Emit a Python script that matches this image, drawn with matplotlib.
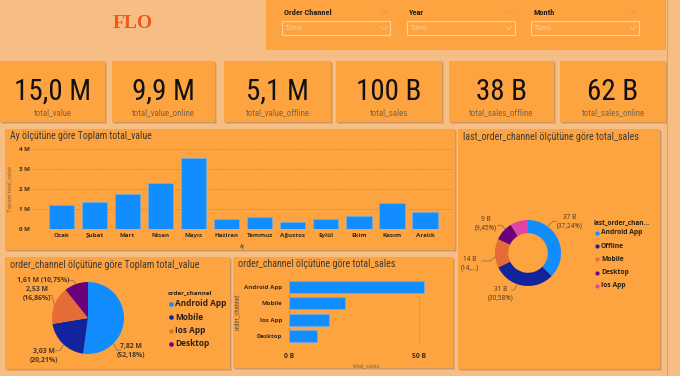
import numpy as np
import matplotlib
matplotlib.use('Agg')
import matplotlib.pyplot as plt
from matplotlib import font_manager as fm
from matplotlib.patches import Rectangle

# ── Data ──────────────────────────────────────────────────────
months = ['Ocak', 'Şubat', 'Mart', 'Nisan', 'Mayıs', 'Haziran', 'Temmuz',
          'Ağustos', 'Eylül', 'Ekim', 'Kasım', 'Aralık']
month_value = [1.19, 1.34, 1.74, 2.31, 3.54, 0.53, 0.63, 0.38, 0.53, 0.64, 1.29, 0.88]   # M

kpi_values = ['15,0 M', '9,9 M', '5,1 M', '100 B', '38 B', '62 B']
kpi_labels = ['total_value', 'total_value_online', 'total_value_offline',
              'total_sales', 'total_sales_offline', 'total_sales_online']

last_channels = ['Android App', 'Offline', 'Mobile', 'Desktop', 'Ios App']
last_sales = [37.24, 30.58, 14.05, 9.45, 8.68]          # B (share of 100 B)
last_labels = ['37 B\n(37,24%)', '31 B\n(30,58%)', '14 B\n(14,...)', '9 B\n(9,45%)']

pie_channels = ['Android App', 'Mobile', 'Ios App', 'Desktop']
pie_value = [7.82, 3.03, 2.53, 1.61]                    # M
pie_labels = ['7,82 M\n(52,18%)', '3,03 M\n(20,21%)', '2,53 M\n(16,86%)', '1,61 M (10,75%)']

bar_channels = ['Android App', 'Mobile', 'Ios App', 'Desktop']
bar_sales = [52.0, 21.4, 15.2, 10.8]                    # B

slicers = ['Order Channel', 'Year', 'Month']

# ── Style ─────────────────────────────────────────────────────
BG = '#F6BE84'
PANEL = '#FDA340'
BLUE = '#118DFF'
PBI = {'Android App': '#118DFF', 'Offline': '#12239E', 'Mobile': '#E66C37',
       'Desktop': '#6B007B', 'Ios App': '#E044A7'}
PIE_COL = ['#118DFF', '#12239E', '#E66C37', '#6B007B']
TXT = '#3a2c1f'
W, H = 680, 376

# narrow family (DIN-like) for titles / cards, Segoe-like for labels
names = {f.name for f in fm.fontManager.ttflist}
FAM, STRETCH = 'DejaVu Sans', 'normal'
for p in ['Roboto Condensed', 'Liberation Sans Narrow', 'DejaVu Sans Condensed',
          'Noto Sans Condensed', 'Open Sans Condensed']:
    if p in names:
        FAM = p
        break
else:
    for f in fm.fontManager.ttflist:
        if f.name in ('DejaVu Sans', 'Noto Sans', 'Roboto', 'Open Sans') and \
                f.stretch in ('condensed', 'semi-condensed', 'extra-condensed'):
            FAM, STRETCH = f.name, 'condensed'
            break
SEG = ['Open Sans', 'DejaVu Sans']

plt.rcParams['font.family'] = [FAM, 'DejaVu Sans']
plt.rcParams['font.stretch'] = STRETCH

fig = plt.figure(figsize=(W / 100, H / 100), dpi=100, facecolor=BG)
renderer = fig.canvas.get_renderer()
bg = fig.add_axes([0, 0, 1, 1])
bg.set_xlim(0, W)
bg.set_ylim(H, 0)
bg.axis('off')


def fs(s, target, bold=False, family=None):
    """font size that gives string s a width of target pixels"""
    kw = {'family': family} if family else {}
    t = fig.text(0, 0, s, fontsize=10, fontweight='bold' if bold else 'normal', **kw)
    w = t.get_window_extent(renderer).width
    t.remove()
    return 10 * target / w


def ax_at(x0, y0, x1, y1):
    a = fig.add_axes([x0 / W, 1 - y1 / H, (x1 - x0) / W, (y1 - y0) / H])
    a.set_facecolor('none')
    return a


def panel(x0, y0, x1, y1, shadow=True):
    if shadow:
        bg.add_patch(Rectangle((x0 + 2, y0 + 2), x1 - x0, y1 - y0, color='#a8794c', alpha=0.25, lw=0))
        bg.add_patch(Rectangle((x0 + 1, y0 + 1), x1 - x0, y1 - y0, color='#9c6f45', alpha=0.35, lw=0))
    bg.add_patch(Rectangle((x0, y0), x1 - x0, y1 - y0, color=PANEL, lw=0))


def chevron(x, y, c):
    bg.plot([x - 3, x, x + 3], [y - 1.5, y + 1.5, y - 1.5], color=c, lw=0.7)


# ── Header ────────────────────────────────────────────────────
bg.text(133, 24, 'FLO', color='#F0561E', fontsize=14, fontweight='bold',
        family=['Liberation Serif', 'DejaVu Serif'], ha='center', va='center')
panel(266, 0, 666, 50, shadow=False)
bg.plot([667, 667], [0, H], color='#d9a46a', lw=0.8)

f_sl = fs('Order Channel', 48, True)
f_tm = fs('Tümü', 18)
for i, name in enumerate(slicers):
    x0 = 282 + i * 124.5
    bg.text(x0 + 2, 12.5, name, fontsize=f_sl, fontweight='bold', color='#2b2118', va='center')
    chevron(x0 + 103, 12, '#d8a060')
    bg.add_patch(Rectangle((x0, 21), 108, 13.5, fill=False, ec='#f9cf95', lw=0.9))
    bg.text(x0 + 3, 28, 'Tümü', fontsize=f_tm, color='#f8d09c', va='center')
    chevron(x0 + 102, 28, '#f5c88e')

# ── KPI cards ────────────────────────────────────────────────
cards = [(0, 105), (112, 215), (224, 331), (336, 442), (449, 554), (560, 666)]
f_kv = fs('15,0 M', 77)
f_kl = fs('total_value', 38)
for (x0, x1), v, lab in zip(cards, kpi_values, kpi_labels):
    panel(x0, 61, x1, 122)
    cx = (x0 + x1) / 2
    bg.text(cx, 92, v, fontsize=f_kv, color='#111111', ha='center', va='center')
    bg.text(cx, 113, lab, fontsize=f_kl, color='#7a6450', ha='center', va='center')

# ── Panels ───────────────────────────────────────────────────
panel(5, 129, 455, 250)
panel(458, 129, 660, 369)
panel(5, 257, 230, 369)
panel(233, 257, 453, 368)

titles = [(10, 136, 'Ay ölçütüne göre Toplam total_value', 142),
          (463, 137, 'last_order_channel ölçütüne göre total_sales', 175),
          (10, 265, 'order_channel ölçütüne göre Toplam total_value', 188),
          (238, 264, 'order_channel ölçütüne göre total_sales', 156)]
for tx, ty, s, tw in titles:
    bg.text(tx, ty, s, fontsize=fs(s, tw), color='#3b3b3b', va='center')

grid_kw = dict(color='#b5773d', lw=0.6, linestyle=(0, (1, 2)))

# ── Monthly bar chart ────────────────────────────────────────
ax1 = ax_at(33, 148.7, 452, 229.3)
x = np.arange(len(months))
ax1.bar(x, month_value, width=0.77, color=BLUE, edgecolor='#6db5ff', lw=0.4, zorder=3)
ax1.set_xlim(-0.86, 11.82)
ax1.set_ylim(0, 4)
ax1.set_yticks([0, 1, 2, 3, 4])
ax1.set_yticklabels([f'{t} M' for t in range(5)], fontsize=fs('4 M', 11, True, SEG),
                    fontweight='bold', color=TXT, family=SEG)
ax1.set_xticks(x)
ax1.set_xticklabels(months, fontsize=fs('Temmuz', 26, True, SEG), fontweight='bold',
                    color=TXT, family=SEG)
ax1.tick_params(length=0, pad=2.5)
ax1.yaxis.grid(True, **grid_kw)
ax1.set_axisbelow(True)
for s in ax1.spines.values():
    s.set_visible(False)
ax1.set_xlabel('Ay', fontsize=fs('Ay', 5, True), fontweight='bold', color='#6a5038')
ax1.xaxis.set_label_coords(0.5, -0.18)
ax1.set_ylabel('Toplam total_value', fontsize=fs('Toplam total_value', 46), color='#8a6848')
ax1.yaxis.set_label_coords(-0.048, 0.5)

# ── Donut ────────────────────────────────────────────────────
R = 33
ax2 = ax_at(528 - R, 253 - R, 528 + R, 253 + R)
ax2.pie(last_sales, colors=[PBI[c] for c in last_channels], startangle=90,
        counterclock=False, radius=1, wedgeprops=dict(width=0.4, lw=0))
ax2.set_xlim(-1, 1)
ax2.set_ylim(-1, 1)
ax2.set_aspect('equal')
ax2.axis('off')
# label positions / leader lines (in radius units)
d_pos = [(1.27, 0.94), (-0.82, -1.22), (-1.77, -0.33), (-1.27, 0.88)]
d_lead = [[(0.62, 0.83), (0.76, 0.96), (0.86, 0.96)],
          [(-0.34, -0.97), (-0.42, -1.12), (-0.50, -1.12)],
          [(-1.0, -0.12), (-1.15, -0.24), (-1.40, -0.24)],
          [(-0.70, 0.74), (-0.80, 0.84), (-0.92, 0.84)]]
f_dl = fs('(37,24%)', 26, family=SEG)
for lab, p, ld in zip(last_labels, d_pos, d_lead):
    ax2.text(p[0], p[1], lab, fontsize=f_dl, color='#4a3826', ha='center', va='center',
             linespacing=1.3, clip_on=False, family=SEG)
    xs, ys = zip(*ld)
    ax2.plot(xs, ys, color='#7d6a58', lw=0.5, clip_on=False)

bg.text(593, 223, 'last_order_chan...', fontsize=fs('last_order_chan...', 57, True, SEG),
        fontweight='bold', color='#2b2118', va='center', family=SEG)
f_dg = fs('Android App', 42, True, SEG)
for i, c in enumerate(last_channels):
    yy = 233 + i * 13.2
    bg.scatter(597, yy, s=9, color=PBI[c], lw=0)
    bg.text(601, yy, c, fontsize=f_dg, fontweight='bold', color='#2b2118', va='center', family=SEG)

# ── Pie ──────────────────────────────────────────────────────
R2 = 36
ax3 = ax_at(88 - R2, 318 - R2, 88 + R2, 318 + R2)
ax3.pie(pie_value, colors=PIE_COL, startangle=90, counterclock=False, radius=1,
        wedgeprops=dict(lw=0))
ax3.set_xlim(-1, 1)
ax3.set_ylim(-1, 1)
ax3.set_aspect('equal')
ax3.axis('off')
p_pos = [(1.19, -0.92), (-1.22, -1.06), (-1.42, 0.67), (-1.25, 1.05)]
p_lead = [[(0.72, -0.72), (0.80, -0.89), (0.92, -0.89)],
          [(-0.68, -0.74), (-0.78, -0.91), (-0.90, -0.91)],
          [(-0.93, 0.36), (-1.0, 0.62), (-1.08, 0.62)],
          [(-0.33, 0.94), (-0.42, 1.05), (-0.52, 1.05)]]
f_pl = fs('1,61 M (10,75%)', 52, True, SEG)
for lab, p, ld in zip(pie_labels, p_pos, p_lead):
    ax3.text(p[0], p[1], lab, fontsize=f_pl, fontweight='bold', color='#4a3826',
             ha='center', va='center', linespacing=1.3, clip_on=False, family=SEG)
    xs, ys = zip(*ld)
    ax3.plot(xs, ys, color='#7d6a58', lw=0.5, clip_on=False)

bg.text(168, 293, 'order_channel', fontsize=fs('order_channel', 45, True, SEG),
        fontweight='bold', color='#2b2118', va='center', family=SEG)
f_pg = fs('Android App', 51, True, SEG)
for i, c in enumerate(pie_channels):
    yy = 304 + i * 13.3
    bg.scatter(171, yy, s=11, color=PIE_COL[i], lw=0)
    bg.text(175, yy, c, fontsize=f_pg, fontweight='bold', color='#2b2118', va='center', family=SEG)

# ── Horizontal bar chart ─────────────────────────────────────
ax4 = ax_at(289.3, 278.8, 440, 344.2)
yb = np.arange(len(bar_channels))
ax4.barh(yb, bar_sales, height=0.73, color=BLUE, edgecolor='#6db5ff', lw=0.4, zorder=3)
ax4.set_xlim(0, 58)
ax4.set_ylim(3.5, -0.5)
ax4.set_xticks([0, 50])
ax4.set_xticklabels(['0 B', '50 B'], fontsize=fs('50 B', 14, True, SEG), fontweight='bold',
                    color=TXT, family=SEG)
ax4.set_yticks(yb)
ax4.set_yticklabels(bar_channels, fontsize=fs('Android App', 38, True, SEG), fontweight='bold',
                    color=TXT, family=SEG)
ax4.tick_params(length=0)
ax4.tick_params(axis='x', pad=6)
ax4.tick_params(axis='y', pad=5)
ax4.xaxis.grid(True, **grid_kw)
ax4.set_axisbelow(True)
for s in ax4.spines.values():
    s.set_visible(False)
ax4.set_xlabel('total_sales', fontsize=fs('total_sales', 27), color='#8a6848')
ax4.xaxis.set_label_coords((367 - 289.3) / 150.7, -0.29)
ax4.set_ylabel('order_channel', fontsize=fs('order_channel', 37), color='#6a5038')
ax4.yaxis.set_label_coords((241 - 289.3) / 150.7, 0.5)

fig.savefig('out.png', dpi=100, facecolor=BG)
